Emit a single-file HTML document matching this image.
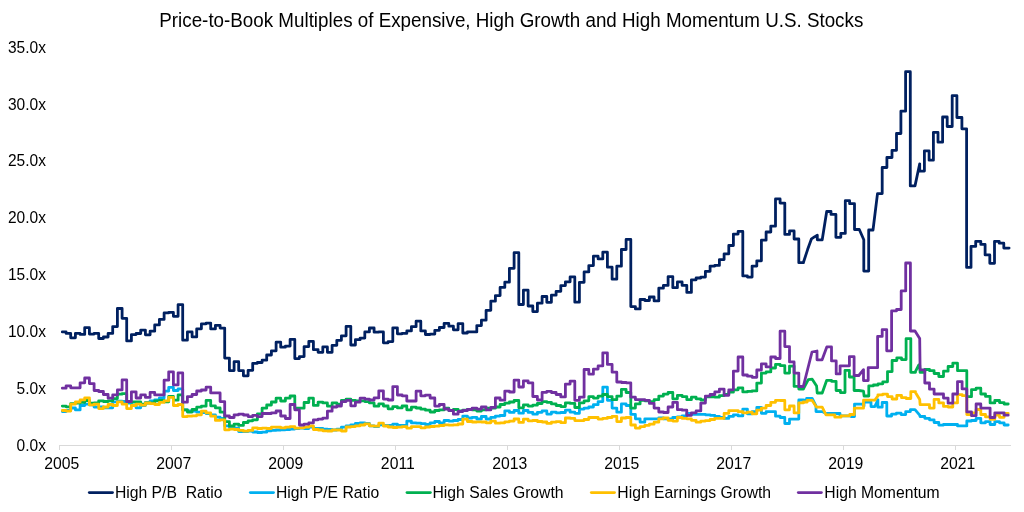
<!DOCTYPE html><html><head><meta charset="utf-8"><style>html,body{margin:0;padding:0;background:#fff;}#c{width:1024px;height:512px;will-change:transform;background:#fff}svg{display:block}text{font-family:"Liberation Sans",Arial,sans-serif;fill:#000}</style></head><body><div id="c">
<svg width="1024" height="512" viewBox="0 0 1024 512">
<rect width="1024" height="512" fill="#fff"/>
<text transform="matrix(1,0,0,1.04,159.3,26.5)" font-size="18.75" textLength="704" lengthAdjust="spacingAndGlyphs">Price-to-Book Multiples of Expensive, High Growth and High Momentum U.S. Stocks</text>
<text transform="matrix(1.015,0,0,1.126,45.95,450.70)" font-size="15.3" text-anchor="end">0.0x</text>
<text transform="matrix(1.015,0,0,1.126,45.95,393.85)" font-size="15.3" text-anchor="end">5.0x</text>
<text transform="matrix(1.015,0,0,1.126,45.95,336.99)" font-size="15.3" text-anchor="end">10.0x</text>
<text transform="matrix(1.015,0,0,1.126,45.95,280.14)" font-size="15.3" text-anchor="end">15.0x</text>
<text transform="matrix(1.015,0,0,1.126,45.95,223.28)" font-size="15.3" text-anchor="end">20.0x</text>
<text transform="matrix(1.015,0,0,1.126,45.95,166.42)" font-size="15.3" text-anchor="end">25.0x</text>
<text transform="matrix(1.015,0,0,1.126,45.95,109.57)" font-size="15.3" text-anchor="end">30.0x</text>
<text transform="matrix(1.015,0,0,1.126,45.95,52.72)" font-size="15.3" text-anchor="end">35.0x</text>
<path d="M59 445.5H1011" stroke="#d9d9d9" stroke-width="1" fill="none"/>
<path d="M59.5 446v4M171.5 446v4M283.5 446v4M395.5 446v4M507.5 446v4M619.5 446v4M731.5 446v4M843.5 446v4M955.5 446v4" stroke="#d9d9d9" stroke-width="1" fill="none"/>
<text transform="matrix(1.03,0,0,1.126,61.80,469)" font-size="15.3" text-anchor="middle">2005</text>
<text transform="matrix(1.03,0,0,1.126,173.80,469)" font-size="15.3" text-anchor="middle">2007</text>
<text transform="matrix(1.03,0,0,1.126,285.80,469)" font-size="15.3" text-anchor="middle">2009</text>
<text transform="matrix(1.03,0,0,1.126,397.80,469)" font-size="15.3" text-anchor="middle">2011</text>
<text transform="matrix(1.03,0,0,1.126,509.80,469)" font-size="15.3" text-anchor="middle">2013</text>
<text transform="matrix(1.03,0,0,1.126,621.80,469)" font-size="15.3" text-anchor="middle">2015</text>
<text transform="matrix(1.03,0,0,1.126,733.80,469)" font-size="15.3" text-anchor="middle">2017</text>
<text transform="matrix(1.03,0,0,1.126,845.80,469)" font-size="15.3" text-anchor="middle">2019</text>
<text transform="matrix(1.03,0,0,1.126,957.80,469)" font-size="15.3" text-anchor="middle">2021</text>
<path d="M62.3 331.9 L66.1 331.9 L66.1 333.4 L70.7 333.4 L70.7 337.8 L75.4 337.8 L75.4 333.4 L80.1 333.4 L80.1 334.4 L84.7 334.4 L84.7 327.7 L89.4 327.7 L89.4 334.1 L94.1 334.1 L94.1 333.4 L98.7 333.4 L98.7 338.5 L103.4 338.5 L103.4 337.0 L108.1 337.0 L108.1 333.4 L112.7 333.4 L112.7 326.6 L117.4 326.6 L117.4 308.5 L122.1 308.5 L122.1 318.3 L126.7 318.3 L126.7 340.9 L131.4 340.9 L131.4 334.6 L136.1 334.6 L136.1 333.5 L140.7 333.5 L140.7 330.1 L145.4 330.1 L145.4 334.8 L150.1 334.8 L150.1 331.2 L154.7 331.2 L154.7 324.9 L159.4 324.9 L159.4 319.4 L164.1 319.4 L164.1 312.9 L168.7 312.9 L168.7 312.4 L173.4 312.4 L173.4 316.3 L178.1 316.3 L178.1 304.6 L182.7 304.6 L182.7 340.2 L187.4 340.2 L187.4 331.9 L192.1 331.9 L192.1 336.9 L196.7 336.9 L196.7 328.8 L201.4 328.8 L201.4 323.8 L206.1 323.8 L206.1 323.1 L210.7 323.1 L210.7 328.9 L215.4 328.9 L215.4 325.3 L220.1 325.3 L220.1 328.1 L224.7 328.1 L224.7 358.1 L229.4 358.1 L229.4 370.6 L234.1 370.6 L234.1 361.7 L238.7 361.7 L238.7 370.6 L243.4 370.6 L243.4 375.8 L248.1 375.8 L248.1 370.3 L252.7 370.3 L252.7 363.3 L257.4 363.3 L257.4 362.5 L262.1 362.5 L262.1 360.2 L266.7 360.2 L266.7 355.0 L271.4 355.0 L271.4 350.8 L276.1 350.8 L276.1 342.2 L280.7 342.2 L280.7 347.2 L285.4 347.2 L285.4 346.1 L290.1 346.1 L290.1 339.4 L294.8 339.4 L294.8 358.6 L299.4 358.6 L299.4 356.6 L304.1 356.6 L304.1 346.6 L308.8 346.6 L308.8 341.4 L313.4 341.4 L313.4 349.7 L318.1 349.7 L318.1 352.3 L322.8 352.3 L322.8 346.9 L327.4 346.9 L327.4 352.3 L332.1 352.3 L332.1 345.3 L336.8 345.3 L336.8 340.3 L341.4 340.3 L341.4 335.8 L346.1 335.8 L346.1 326.3 L350.8 326.3 L350.8 345.0 L355.4 345.0 L355.4 339.7 L360.1 339.7 L360.1 338.1 L364.8 338.1 L364.8 331.9 L369.4 331.9 L369.4 328.0 L374.1 328.0 L374.1 332.2 L378.8 332.2 L378.8 331.9 L383.4 331.9 L383.4 342.8 L388.1 342.8 L388.1 341.6 L392.8 341.6 L392.8 327.8 L397.4 327.8 L397.4 333.8 L402.1 333.8 L402.1 333.4 L406.8 333.4 L406.8 330.9 L411.4 330.9 L411.4 326.7 L416.1 326.7 L416.1 321.2 L420.8 321.2 L420.8 330.9 L425.4 330.9 L425.4 334.5 L430.1 334.5 L430.1 334.1 L434.8 334.1 L434.8 330.3 L439.4 330.3 L439.4 327.5 L444.1 327.5 L444.1 323.3 L448.8 323.3 L448.8 326.2 L453.4 326.2 L453.4 329.8 L458.1 329.8 L458.1 323.6 L462.8 323.6 L462.8 333.0 L467.4 333.0 L467.4 331.9 L472.1 331.9 L472.1 331.9 L476.8 331.9 L476.8 325.6 L481.4 325.6 L481.4 320.2 L486.1 320.2 L486.1 310.3 L490.8 310.3 L490.8 301.2 L495.4 301.2 L495.4 295.6 L500.1 295.6 L500.1 287.4 L504.8 287.4 L504.8 282.2 L509.4 282.2 L509.4 268.3 L514.1 268.3 L514.1 252.7 L518.8 252.7 L518.8 304.5 L523.4 304.5 L523.4 290.2 L528.1 290.2 L528.1 306.0 L532.8 306.0 L532.8 311.6 L537.4 311.6 L537.4 303.2 L542.1 303.2 L542.1 296.5 L546.8 296.5 L546.8 302.3 L551.4 302.3 L551.4 295.2 L556.1 295.2 L556.1 291.3 L560.8 291.3 L560.8 285.6 L565.4 285.6 L565.4 281.8 L570.1 281.8 L570.1 276.9 L574.8 276.9 L574.8 302.2 L579.4 302.2 L579.4 282.3 L584.1 282.3 L584.1 271.9 L588.8 271.9 L588.8 265.6 L593.4 265.6 L593.4 256.2 L598.1 256.2 L598.1 258.9 L602.8 258.9 L602.8 252.2 L607.4 252.2 L607.4 267.2 L612.1 267.2 L612.1 279.2 L616.8 279.2 L616.8 266.2 L621.4 266.2 L621.4 249.5 L626.1 249.5 L626.1 239.4 L630.8 239.4 L630.8 306.6 L635.4 306.6 L635.4 308.9 L640.1 308.9 L640.1 299.5 L644.8 299.5 L644.8 300.5 L649.4 300.5 L649.4 297.0 L654.1 297.0 L654.1 300.9 L658.8 300.9 L658.8 288.2 L663.4 288.2 L663.4 285.4 L668.1 285.4 L668.1 276.6 L672.8 276.6 L672.8 287.7 L677.4 287.7 L677.4 281.9 L682.1 281.9 L682.1 285.4 L686.8 285.4 L686.8 292.4 L691.4 292.4 L691.4 279.8 L696.1 279.8 L696.1 278.0 L700.8 278.0 L700.8 277.1 L705.4 277.1 L705.4 271.3 L710.1 271.3 L710.1 266.1 L714.8 266.1 L714.8 265.4 L719.4 265.4 L719.4 259.6 L724.1 259.6 L724.1 253.8 L728.8 253.8 L728.8 245.5 L733.4 245.5 L733.4 234.1 L738.1 234.1 L738.1 231.4 L742.8 231.4 L742.8 275.9 L747.4 275.9 L747.4 277.1 L752.1 277.1 L752.1 266.1 L756.8 266.1 L756.8 260.8 L761.4 260.8 L761.4 240.2 L766.1 240.2 L766.1 232.0 L770.8 232.0 L770.8 226.2 L775.5 226.2 L775.5 198.9 L780.1 198.9 L780.1 203.1 L784.8 203.1 L784.8 234.4 L789.5 234.4 L789.5 230.9 L794.1 230.9 L794.1 239.0 L798.8 239.0 L798.8 262.7 L803.5 262.7 L803.3 262.7 L807.6 249.6 L811.5 238.8 L814.4 236.9 L817.3 235.3 L817.3 239.8 L822.2 239.8 L826.7 211.5 L831.0 211.5 L831.0 214.4 L835.9 214.4 L835.9 237.3 L840.8 237.3 L840.8 233.4 L845.3 233.4 L845.3 200.7 L849.6 200.7 L849.6 203.7 L854.5 203.7 L854.5 229.5 L859.3 229.5 L863.8 239.8 L863.8 271.1 L868.7 271.1 L868.7 230.0 L873.0 230.0 L877.5 193.6 L882.2 193.6 L882.2 167.5 L886.9 167.5 L886.9 157.5 L892.0 157.5 L892.0 150.3 L896.5 150.3 L896.5 133.5 L900.9 133.5 L900.9 111.2 L905.6 111.2 L905.6 71.7 L910.3 71.7 L910.3 185.9 L915.0 185.9 L919.7 163.8 L919.7 171.1 L924.4 171.1 L924.4 150.8 L929.1 150.8 L929.1 160.2 L933.4 160.2 L933.4 132.4 L938.0 132.4 L938.0 142.2 L942.6 142.2 L942.6 117.0 L947.2 117.0 L947.2 126.5 L952.2 126.5 L952.2 95.6 L956.9 95.6 L956.9 117.5 L961.9 117.5 L961.9 128.8 L966.6 128.8 L966.6 267.4 L971.0 267.4 L971.0 246.4 L975.7 246.4 L975.7 241.3 L980.8 241.3 L980.8 244.4 L985.1 244.4 L985.1 254.9 L989.8 254.9 L989.8 263.3 L994.5 263.3 L994.5 241.3 L999.2 241.3 L999.2 243.2 L1003.8 243.2 L1003.8 248.1 L1009.1 248.1" stroke="#002060" stroke-width="2.8" fill="none" stroke-linejoin="round" stroke-linecap="round"/>
<path d="M62.3 411.5 L66.1 411.5 L66.1 410.5 L70.7 410.5 L70.7 408.0 L75.4 408.0 L75.4 409.9 L80.1 409.9 L80.1 405.5 L84.7 405.5 L84.7 404.2 L89.4 404.2 L89.4 404.9 L94.1 404.9 L94.1 407.0 L98.7 407.0 L98.7 407.0 L103.4 407.0 L103.4 407.8 L108.1 407.8 L108.1 407.8 L112.7 407.8 L112.7 401.8 L117.4 401.8 L117.4 401.1 L122.1 401.1 L122.1 401.5 L126.7 401.5 L126.7 403.0 L131.4 403.0 L131.4 405.5 L136.1 405.5 L136.1 407.8 L140.7 407.8 L140.7 405.5 L145.4 405.5 L145.4 402.4 L150.1 402.4 L150.1 400.8 L154.7 400.8 L154.7 399.9 L159.4 399.9 L159.4 398.0 L164.1 398.0 L164.1 391.1 L168.7 391.1 L168.7 387.4 L173.4 387.4 L173.4 390.5 L178.1 390.5 L178.1 388.8 L182.7 388.8 L182.7 409.8 L187.4 409.8 L187.4 410.8 L192.1 410.8 L192.1 411.2 L196.7 411.2 L196.7 412.2 L201.4 412.2 L201.4 412.5 L206.1 412.5 L206.1 413.5 L210.7 413.5 L210.7 414.8 L215.4 414.8 L215.4 417.2 L220.1 417.2 L220.1 418.5 L224.7 418.5 L224.7 425.8 L229.4 425.8 L229.4 427.2 L234.1 427.2 L234.1 428.2 L238.7 428.2 L238.7 431.6 L243.4 431.6 L243.4 431.6 L248.1 431.6 L248.1 431.0 L252.7 431.0 L252.7 432.0 L257.4 432.0 L257.4 432.5 L262.1 432.5 L262.1 432.2 L266.7 432.2 L266.7 430.8 L271.4 430.8 L271.4 430.4 L276.1 430.4 L276.1 430.0 L280.7 430.0 L280.7 429.8 L285.4 429.8 L285.4 429.5 L290.1 429.5 L290.1 429.1 L294.8 429.1 L294.8 428.5 L299.4 428.5 L299.4 428.2 L304.1 428.2 L304.1 428.5 L308.8 428.5 L308.8 427.0 L313.4 427.0 L313.4 428.5 L318.1 428.5 L318.1 428.5 L322.8 428.5 L322.8 429.1 L327.4 429.1 L327.4 429.5 L332.1 429.5 L332.1 430.0 L336.8 430.0 L336.8 429.1 L341.4 429.1 L341.4 427.2 L346.1 427.2 L346.1 426.0 L350.8 426.0 L350.8 425.0 L355.4 425.0 L355.4 423.5 L360.1 423.5 L360.1 422.9 L364.8 422.9 L364.8 423.5 L369.4 423.5 L369.4 425.8 L374.1 425.8 L374.1 426.6 L378.8 426.6 L378.8 424.8 L383.4 424.8 L383.4 425.4 L388.1 425.4 L388.1 425.4 L392.8 425.4 L392.8 424.1 L397.4 424.1 L397.4 425.4 L402.1 425.4 L402.1 425.4 L406.8 425.4 L406.8 421.2 L411.4 421.2 L411.4 422.9 L416.1 422.9 L416.1 423.2 L420.8 423.2 L420.8 423.6 L425.4 423.6 L425.4 424.5 L430.1 424.5 L430.1 422.8 L434.8 422.8 L434.8 421.5 L439.4 421.5 L439.4 423.0 L444.1 423.0 L444.1 420.5 L448.8 420.5 L448.8 421.1 L453.4 421.1 L453.4 420.5 L458.1 420.5 L458.1 419.5 L462.8 419.5 L462.8 416.1 L467.4 416.1 L467.4 418.0 L472.1 418.0 L472.1 417.4 L476.8 417.4 L476.8 419.0 L481.4 419.0 L481.4 416.5 L486.1 416.5 L486.1 419.0 L490.8 419.0 L490.8 417.4 L495.4 417.4 L495.4 416.1 L500.1 416.1 L500.1 415.5 L504.8 415.5 L504.8 410.8 L509.4 410.8 L509.4 412.4 L514.1 412.4 L514.1 410.5 L518.8 410.5 L518.8 413.2 L523.4 413.2 L523.4 410.5 L528.1 410.5 L528.1 412.4 L532.8 412.4 L532.8 414.2 L537.4 414.2 L537.4 412.3 L542.1 412.3 L542.1 410.8 L546.8 410.8 L546.8 414.1 L551.4 414.1 L551.4 412.2 L556.1 412.2 L556.1 412.8 L560.8 412.8 L560.8 412.5 L565.4 412.5 L565.4 410.2 L570.1 410.2 L570.1 412.2 L574.8 412.2 L574.8 413.3 L579.4 413.3 L579.4 409.1 L584.1 409.1 L584.1 408.1 L588.8 408.1 L588.8 407.0 L593.4 407.0 L593.4 404.7 L598.1 404.7 L598.1 401.6 L602.8 401.6 L602.8 387.2 L607.4 387.2 L607.4 400.3 L612.1 400.3 L612.1 408.1 L616.8 408.1 L616.8 412.2 L621.4 412.2 L621.4 403.9 L626.1 403.9 L626.1 405.5 L630.8 405.5 L630.8 414.4 L635.4 414.4 L635.4 418.8 L640.1 418.8 L640.1 422.2 L644.8 422.2 L644.8 418.8 L649.4 418.8 L649.4 418.8 L654.1 418.8 L654.1 418.8 L658.8 418.8 L658.8 417.8 L663.4 417.8 L663.4 418.8 L668.1 418.8 L668.1 418.8 L672.8 418.8 L672.8 417.5 L677.4 417.5 L677.4 416.9 L682.1 416.9 L682.1 415.9 L686.8 415.9 L686.8 413.3 L691.4 413.3 L691.4 414.4 L696.1 414.4 L696.1 414.4 L700.8 414.4 L700.8 414.4 L705.4 414.4 L705.4 414.8 L710.1 414.8 L710.1 415.3 L714.8 415.3 L714.8 416.4 L719.4 416.4 L719.4 417.5 L724.1 417.5 L724.1 418.4 L728.8 418.4 L728.8 416.4 L733.4 416.4 L733.4 414.8 L738.1 414.8 L738.1 415.9 L742.8 415.9 L742.8 409.1 L747.4 409.1 L747.4 413.8 L752.1 413.8 L752.1 411.7 L756.8 411.7 L756.8 407.5 L761.4 407.5 L761.4 413.3 L766.1 413.3 L766.1 411.7 L770.8 411.7 L770.8 411.7 L775.5 411.7 L775.5 416.2 L780.1 416.2 L780.1 417.5 L784.8 417.5 L784.8 423.5 L789.5 423.5 L789.5 419.1 L794.1 419.1 L794.1 419.1 L798.8 419.1 L798.8 400.0 L803.5 400.0 L803.3 400.1 L806.6 400.1 L806.6 398.5 L812.2 398.5 L816.0 406.0 L816.0 411.6 L822.2 411.6 L826.0 413.5 L840.0 413.5 L840.0 415.8 L851.0 415.8 L851.0 416.6 L854.5 416.6 L854.5 404.1 L862.2 404.1 L864.0 406.0 L864.0 402.2 L871.0 402.2 L871.0 406.6 L874.8 406.6 L877.9 399.8 L877.9 407.2 L882.2 407.2 L882.2 402.5 L886.8 402.5 L886.8 416.0 L891.6 416.0 L891.6 414.1 L896.4 414.1 L896.4 413.2 L901.1 413.2 L901.1 414.6 L905.7 414.6 L905.7 411.6 L910.4 411.6 L910.4 409.6 L915.0 409.6 L919.7 415.2 L920.1 416.5 L924.8 416.5 L924.8 418.3 L929.5 418.3 L929.5 419.8 L934.1 419.8 L934.1 422.5 L938.8 422.5 L938.8 425.1 L943.5 425.1 L943.5 424.5 L948.1 424.5 L948.1 424.5 L952.8 424.5 L952.8 424.5 L957.5 424.5 L957.5 425.9 L962.1 425.9 L962.1 425.9 L966.8 425.9 L966.8 421.0 L971.5 421.0 L971.5 420.5 L976.1 420.5 L976.1 418.4 L980.8 418.4 L980.8 422.8 L985.5 422.8 L985.5 421.6 L990.1 421.6 L990.1 424.5 L994.8 424.5 L994.8 421.6 L999.5 421.6 L999.5 422.8 L1004.1 422.8 L1004.1 425.0 L1008.2 425.0" stroke="#00B0F0" stroke-width="2.8" fill="none" stroke-linejoin="round" stroke-linecap="round"/>
<path d="M62.3 406.1 L66.1 406.1 L66.1 406.8 L70.7 406.8 L70.7 403.6 L75.4 403.6 L75.4 403.0 L80.1 403.0 L80.1 402.4 L84.7 402.4 L84.7 400.5 L89.4 400.5 L89.4 403.2 L94.1 403.2 L94.1 403.0 L98.7 403.0 L98.7 400.8 L103.4 400.8 L103.4 401.5 L108.1 401.5 L108.1 400.8 L112.7 400.8 L112.7 398.6 L117.4 398.6 L117.4 394.2 L122.1 394.2 L122.1 393.6 L126.7 393.6 L126.7 401.8 L131.4 401.8 L131.4 402.0 L136.1 402.0 L136.1 401.8 L140.7 401.8 L140.7 404.2 L145.4 404.2 L145.4 403.0 L150.1 403.0 L150.1 403.0 L154.7 403.0 L154.7 400.8 L159.4 400.8 L159.4 400.5 L164.1 400.5 L164.1 401.8 L168.7 401.8 L168.7 396.5 L173.4 396.5 L173.4 400.2 L178.1 400.2 L178.1 394.9 L182.7 394.9 L182.7 409.8 L187.4 409.8 L187.4 412.0 L192.1 412.0 L192.1 409.5 L196.7 409.5 L196.7 407.2 L201.4 407.2 L201.4 406.2 L206.1 406.2 L206.1 400.4 L210.7 400.4 L210.7 405.8 L215.4 405.8 L215.4 407.9 L220.1 407.9 L220.1 412.2 L224.7 412.2 L224.7 421.6 L229.4 421.6 L229.4 426.0 L234.1 426.0 L234.1 424.1 L238.7 424.1 L238.7 425.4 L243.4 425.4 L243.4 422.5 L248.1 422.5 L248.1 420.8 L252.7 420.8 L252.7 419.8 L257.4 419.8 L257.4 413.8 L262.1 413.8 L262.1 408.2 L266.7 408.2 L266.7 405.0 L271.4 405.0 L271.4 402.0 L276.1 402.0 L276.1 398.2 L280.7 398.2 L280.7 401.0 L285.4 401.0 L285.4 398.2 L290.1 398.2 L290.1 396.0 L294.8 396.0 L294.8 408.2 L299.4 408.2 L299.4 408.2 L304.1 408.2 L304.1 402.5 L308.8 402.5 L308.8 398.2 L313.4 398.2 L313.4 405.4 L318.1 405.4 L318.1 402.2 L322.8 402.2 L322.8 402.9 L327.4 402.9 L327.4 406.2 L332.1 406.2 L332.1 402.9 L336.8 402.9 L336.8 404.1 L341.4 404.1 L341.4 400.4 L346.1 400.4 L346.1 399.1 L350.8 399.1 L350.8 400.4 L355.4 400.4 L355.4 400.8 L360.1 400.8 L360.1 400.8 L364.8 400.8 L364.8 401.6 L369.4 401.6 L369.4 402.9 L374.1 402.9 L374.1 406.2 L378.8 406.2 L378.8 403.8 L383.4 403.8 L383.4 406.0 L388.1 406.0 L388.1 408.8 L392.8 408.8 L392.8 406.6 L397.4 406.6 L397.4 407.9 L402.1 407.9 L402.1 406.0 L406.8 406.0 L406.8 409.8 L411.4 409.8 L411.4 407.2 L416.1 407.2 L416.1 408.0 L420.8 408.0 L420.8 409.2 L425.4 409.2 L425.4 410.2 L430.1 410.2 L430.1 412.0 L434.8 412.0 L434.8 410.5 L439.4 410.5 L439.4 409.9 L444.1 409.9 L444.1 408.2 L448.8 408.2 L448.8 410.5 L453.4 410.5 L453.4 409.5 L458.1 409.5 L458.1 410.8 L462.8 410.8 L462.8 410.2 L467.4 410.2 L467.4 409.5 L472.1 409.5 L472.1 409.9 L476.8 409.9 L476.8 411.1 L481.4 411.1 L481.4 409.9 L486.1 409.9 L486.1 408.2 L490.8 408.2 L490.8 408.2 L495.4 408.2 L495.4 407.0 L500.1 407.0 L500.1 404.5 L504.8 404.5 L504.8 403.2 L509.4 403.2 L509.4 402.0 L514.1 402.0 L514.1 400.5 L518.8 400.5 L518.8 407.8 L523.4 407.8 L523.4 404.9 L528.1 404.9 L528.1 406.1 L532.8 406.1 L532.8 405.2 L537.4 405.2 L537.4 403.5 L542.1 403.5 L542.1 401.7 L546.8 401.7 L546.8 402.3 L551.4 402.3 L551.4 403.9 L556.1 403.9 L556.1 405.5 L560.8 405.5 L560.8 406.6 L565.4 406.6 L565.4 402.8 L570.1 402.8 L570.1 403.4 L574.8 403.4 L574.8 407.5 L579.4 407.5 L579.4 402.8 L584.1 402.8 L584.1 400.8 L588.8 400.8 L588.8 396.6 L593.4 396.6 L593.4 398.1 L598.1 398.1 L598.1 396.1 L602.8 396.1 L602.8 394.5 L607.4 394.5 L607.4 396.6 L612.1 396.6 L612.1 399.7 L616.8 399.7 L616.8 396.1 L621.4 396.1 L621.4 389.4 L626.1 389.4 L626.1 392.5 L630.8 392.5 L630.8 408.1 L635.4 408.1 L635.4 403.9 L640.1 403.9 L640.1 400.3 L644.8 400.3 L644.8 400.8 L649.4 400.8 L649.4 401.6 L654.1 401.6 L654.1 399.7 L658.8 399.7 L658.8 396.1 L663.4 396.1 L663.4 394.1 L668.1 394.1 L668.1 392.5 L672.8 392.5 L672.8 398.8 L677.4 398.8 L677.4 395.3 L682.1 395.3 L682.1 396.6 L686.8 396.6 L686.8 399.7 L691.4 399.7 L691.4 397.2 L696.1 397.2 L696.1 398.8 L700.8 398.8 L700.8 400.0 L705.4 400.0 L705.4 396.9 L710.1 396.9 L710.1 396.9 L714.8 396.9 L714.8 397.2 L719.4 397.2 L719.4 395.6 L724.1 395.6 L724.1 394.5 L728.8 394.5 L728.8 392.2 L733.4 392.2 L733.4 389.8 L738.1 389.8 L738.1 387.8 L742.8 387.8 L742.8 391.9 L747.4 391.9 L747.4 391.4 L752.1 391.4 L752.1 390.9 L756.8 390.9 L756.8 383.1 L761.4 383.1 L761.4 373.1 L766.1 373.1 L766.1 371.9 L770.8 371.9 L770.8 368.0 L775.5 368.0 L775.5 364.4 L780.1 364.4 L780.1 365.6 L784.8 365.6 L784.8 373.1 L789.5 373.1 L789.5 366.1 L794.1 366.1 L794.1 386.4 L798.8 386.4 L798.8 389.0 L803.5 389.0 L803.3 389.0 L808.3 379.6 L812.2 379.2 L816.6 386.0 L817.2 393.0 L822.2 393.0 L826.7 380.3 L831.5 380.3 L831.5 381.3 L836.1 381.3 L836.1 390.5 L840.4 390.5 L840.4 392.6 L845.0 392.6 L845.0 370.3 L849.4 370.3 L849.4 377.0 L854.1 377.0 L854.1 390.5 L858.8 390.5 L863.5 391.2 L864.1 396.0 L868.8 396.0 L868.8 385.8 L873.5 385.8 L873.5 385.0 L878.1 385.0 L878.1 383.8 L882.8 383.8 L882.8 381.8 L887.5 381.8 L887.5 371.6 L892.1 371.6 L892.1 360.5 L896.8 360.5 L896.8 357.8 L901.5 357.8 L901.5 359.6 L906.1 359.6 L906.1 338.6 L910.8 338.6 L910.8 372.3 L915.5 372.3 L915.0 372.3 L918.8 364.9 L919.7 365.0 L920.1 372.3 L924.8 372.3 L924.8 369.5 L929.5 369.5 L929.5 370.7 L934.1 370.7 L934.1 373.5 L938.8 373.5 L938.8 376.5 L943.5 376.5 L943.5 371.2 L948.1 371.2 L948.1 366.5 L952.8 366.5 L952.8 363.2 L957.5 363.2 L957.5 370.7 L962.1 370.7 L962.1 370.7 L966.8 370.7 L966.8 396.7 L971.5 396.7 L971.5 389.6 L976.1 389.6 L976.1 388.2 L980.8 388.2 L980.8 394.0 L985.5 394.0 L985.5 396.4 L990.1 396.4 L990.1 402.9 L994.8 402.9 L994.8 400.5 L999.5 400.5 L999.5 402.6 L1004.1 402.6 L1004.1 404.0 L1008.2 404.0" stroke="#00B050" stroke-width="2.8" fill="none" stroke-linejoin="round" stroke-linecap="round"/>
<path d="M62.3 410.5 L66.1 410.5 L66.1 411.1 L70.7 411.1 L70.7 404.2 L75.4 404.2 L75.4 402.0 L80.1 402.0 L80.1 399.9 L84.7 399.9 L84.7 397.8 L89.4 397.8 L89.4 404.9 L94.1 404.9 L94.1 404.2 L98.7 404.2 L98.7 408.6 L103.4 408.6 L103.4 407.0 L108.1 407.0 L108.1 404.5 L112.7 404.5 L112.7 405.5 L117.4 405.5 L117.4 401.8 L122.1 401.8 L122.1 404.2 L126.7 404.2 L126.7 408.6 L131.4 408.6 L131.4 405.5 L136.1 405.5 L136.1 404.2 L140.7 404.2 L140.7 405.2 L145.4 405.2 L145.4 403.0 L150.1 403.0 L150.1 403.6 L154.7 403.6 L154.7 404.5 L159.4 404.5 L159.4 402.4 L164.1 402.4 L164.1 400.8 L168.7 400.8 L168.7 397.4 L173.4 397.4 L173.4 405.5 L178.1 405.5 L178.1 404.5 L182.7 404.5 L182.7 416.6 L187.4 416.6 L187.4 416.2 L192.1 416.2 L192.1 415.8 L196.7 415.8 L196.7 414.8 L201.4 414.8 L201.4 411.2 L206.1 411.2 L206.1 412.9 L210.7 412.9 L210.7 416.2 L215.4 416.2 L215.4 420.4 L220.1 420.4 L220.1 419.8 L224.7 419.8 L224.7 429.8 L229.4 429.8 L229.4 429.1 L234.1 429.1 L234.1 429.5 L238.7 429.5 L238.7 430.4 L243.4 430.4 L243.4 431.2 L248.1 431.2 L248.1 430.4 L252.7 430.4 L252.7 427.9 L257.4 427.9 L257.4 428.5 L262.1 428.5 L262.1 428.2 L266.7 428.2 L266.7 428.5 L271.4 428.5 L271.4 427.2 L276.1 427.2 L276.1 427.2 L280.7 427.2 L280.7 427.9 L285.4 427.9 L285.4 427.2 L290.1 427.2 L290.1 426.6 L294.8 426.6 L294.8 428.2 L299.4 428.2 L299.4 427.9 L304.1 427.9 L304.1 427.2 L308.8 427.2 L308.8 426.0 L313.4 426.0 L313.4 429.5 L318.1 429.5 L318.1 430.0 L322.8 430.0 L322.8 430.8 L327.4 430.8 L327.4 431.0 L332.1 431.0 L332.1 430.0 L336.8 430.0 L336.8 430.0 L341.4 430.0 L341.4 431.0 L346.1 431.0 L346.1 427.0 L350.8 427.0 L350.8 426.6 L355.4 426.6 L355.4 425.8 L360.1 425.8 L360.1 425.0 L364.8 425.0 L364.8 423.8 L369.4 423.8 L369.4 425.8 L374.1 425.8 L374.1 426.2 L378.8 426.2 L378.8 423.2 L383.4 423.2 L383.4 426.0 L388.1 426.0 L388.1 427.0 L392.8 427.0 L392.8 427.5 L397.4 427.5 L397.4 427.2 L402.1 427.2 L402.1 426.6 L406.8 426.6 L406.8 428.2 L411.4 428.2 L411.4 426.6 L416.1 426.6 L416.1 426.7 L420.8 426.7 L420.8 427.8 L425.4 427.8 L425.4 427.0 L430.1 427.0 L430.1 426.5 L434.8 426.5 L434.8 426.1 L439.4 426.1 L439.4 425.5 L444.1 425.5 L444.1 424.9 L448.8 424.9 L448.8 425.2 L453.4 425.2 L453.4 424.9 L458.1 424.9 L458.1 424.0 L462.8 424.0 L462.8 419.2 L467.4 419.2 L467.4 421.5 L472.1 421.5 L472.1 422.0 L476.8 422.0 L476.8 421.8 L481.4 421.8 L481.4 422.0 L486.1 422.0 L486.1 422.8 L490.8 422.8 L490.8 421.1 L495.4 421.1 L495.4 423.2 L500.1 423.2 L500.1 422.8 L504.8 422.8 L504.8 421.8 L509.4 421.8 L509.4 421.1 L514.1 421.1 L514.1 419.0 L518.8 419.0 L518.8 422.4 L523.4 422.4 L523.4 419.2 L528.1 419.2 L528.1 420.8 L532.8 420.8 L532.8 420.5 L537.4 420.5 L537.4 421.5 L542.1 421.5 L542.1 422.0 L546.8 422.0 L546.8 423.4 L551.4 423.4 L551.4 422.2 L556.1 422.2 L556.1 421.6 L560.8 421.6 L560.8 422.7 L565.4 422.7 L565.4 418.0 L570.1 418.0 L570.1 418.4 L574.8 418.4 L574.8 420.6 L579.4 420.6 L579.4 420.6 L584.1 420.6 L584.1 419.5 L588.8 419.5 L588.8 417.5 L593.4 417.5 L593.4 417.5 L598.1 417.5 L598.1 419.1 L602.8 419.1 L602.8 418.4 L607.4 418.4 L607.4 417.5 L612.1 417.5 L612.1 416.4 L616.8 416.4 L616.8 421.6 L621.4 421.6 L621.4 418.0 L626.1 418.0 L626.1 417.5 L630.8 417.5 L630.8 425.0 L635.4 425.0 L635.4 428.1 L640.1 428.1 L640.1 426.6 L644.8 426.6 L644.8 425.3 L649.4 425.3 L649.4 424.2 L654.1 424.2 L654.1 422.2 L658.8 422.2 L658.8 418.8 L663.4 418.8 L663.4 418.0 L668.1 418.0 L668.1 420.3 L672.8 420.3 L672.8 421.1 L677.4 421.1 L677.4 417.5 L682.1 417.5 L682.1 418.4 L686.8 418.4 L686.8 418.8 L691.4 418.8 L691.4 420.3 L696.1 420.3 L696.1 422.2 L700.8 422.2 L700.8 421.1 L705.4 421.1 L705.4 420.6 L710.1 420.6 L710.1 419.5 L714.8 419.5 L714.8 418.4 L719.4 418.4 L719.4 418.4 L724.1 418.4 L724.1 413.3 L728.8 413.3 L728.8 410.6 L733.4 410.6 L733.4 410.6 L738.1 410.6 L738.1 411.7 L742.8 411.7 L742.8 412.8 L747.4 412.8 L747.4 412.2 L752.1 412.2 L752.1 413.8 L756.8 413.8 L756.8 410.2 L761.4 410.2 L761.4 408.1 L766.1 408.1 L766.1 405.5 L770.8 405.5 L770.8 402.3 L775.5 402.3 L775.5 400.3 L780.1 400.3 L780.1 400.5 L784.8 400.5 L784.8 409.8 L789.5 409.8 L789.5 406.0 L794.1 406.0 L794.1 412.9 L798.8 412.9 L798.8 402.9 L803.5 402.9 L803.3 402.9 L803.3 402.0 L807.2 402.0 L807.2 400.4 L812.2 400.4 L816.6 407.2 L822.2 407.2 L826.0 414.8 L834.8 414.8 L834.8 417.2 L841.0 417.2 L841.0 415.8 L849.8 415.8 L849.8 414.5 L854.3 414.5 L854.3 408.2 L863.5 408.2 L863.5 400.2 L874.8 400.2 L877.9 396.0 L877.9 394.8 L878.1 394.8 L882.8 394.8 L882.8 394.1 L887.5 394.1 L887.5 396.6 L892.1 396.6 L892.1 399.0 L896.8 399.0 L896.8 395.3 L901.5 395.3 L901.5 397.7 L906.1 397.7 L906.1 398.5 L910.8 398.5 L910.8 391.7 L915.5 391.7 L915.0 391.7 L919.7 399.5 L920.1 404.6 L924.8 404.6 L924.8 404.6 L929.5 404.6 L929.5 408.1 L934.1 408.1 L934.1 399.3 L938.8 399.3 L938.8 402.9 L943.5 402.9 L943.5 406.4 L948.1 406.4 L948.1 407.0 L952.8 407.0 L952.8 402.9 L957.5 402.9 L957.5 394.6 L962.1 394.6 L962.1 395.6 L966.8 395.6 L966.8 414.6 L971.5 414.6 L971.5 412.8 L976.1 412.8 L976.1 409.5 L980.8 409.5 L980.8 414.5 L985.5 414.5 L985.5 416.9 L990.1 416.9 L990.1 419.3 L994.8 419.3 L994.8 415.2 L999.5 415.2 L999.5 417.3 L1004.1 417.3 L1004.1 413.4 L1008.2 413.4" stroke="#FFC000" stroke-width="2.8" fill="none" stroke-linejoin="round" stroke-linecap="round"/>
<path d="M62.3 388.2 L66.1 388.2 L66.1 385.8 L70.7 385.8 L70.7 387.8 L75.4 387.8 L75.4 387.8 L80.1 387.8 L80.1 382.8 L84.7 382.8 L84.7 378.0 L89.4 378.0 L89.4 383.6 L94.1 383.6 L94.1 390.5 L98.7 390.5 L98.7 391.5 L103.4 391.5 L103.4 394.5 L108.1 394.5 L108.1 398.2 L112.7 398.2 L112.7 394.9 L117.4 394.9 L117.4 389.9 L122.1 389.9 L122.1 379.9 L126.7 379.9 L126.7 401.5 L131.4 401.5 L131.4 391.8 L136.1 391.8 L136.1 398.0 L140.7 398.0 L140.7 394.9 L145.4 394.9 L145.4 397.4 L150.1 397.4 L150.1 392.4 L154.7 392.4 L154.7 394.9 L159.4 394.9 L159.4 394.9 L164.1 394.9 L164.1 380.2 L168.7 380.2 L168.7 371.8 L173.4 371.8 L173.4 384.9 L178.1 384.9 L178.1 372.8 L182.7 372.8 L182.7 402.2 L187.4 402.2 L187.4 396.6 L192.1 396.6 L192.1 394.5 L196.7 394.5 L196.7 391.0 L201.4 391.0 L201.4 390.0 L206.1 390.0 L206.1 387.2 L210.7 387.2 L210.7 392.9 L215.4 392.9 L215.4 392.9 L220.1 392.9 L220.1 401.6 L224.7 401.6 L224.7 416.0 L229.4 416.0 L229.4 417.5 L234.1 417.5 L234.1 414.8 L238.7 414.8 L238.7 414.1 L243.4 414.1 L243.4 415.0 L248.1 415.0 L248.1 416.6 L252.7 416.6 L252.7 415.4 L257.4 415.4 L257.4 416.6 L262.1 416.6 L262.1 413.5 L266.7 413.5 L266.7 413.5 L271.4 413.5 L271.4 412.9 L276.1 412.9 L276.1 411.0 L280.7 411.0 L280.7 416.0 L285.4 416.0 L285.4 418.5 L290.1 418.5 L290.1 404.5 L294.8 404.5 L294.8 409.8 L299.4 409.8 L299.4 425.0 L304.1 425.0 L304.1 424.1 L308.8 424.1 L308.8 422.9 L313.4 422.9 L313.4 419.8 L318.1 419.8 L318.1 419.1 L322.8 419.1 L322.8 418.2 L327.4 418.2 L327.4 411.2 L332.1 411.2 L332.1 407.0 L336.8 407.0 L336.8 406.0 L341.4 406.0 L341.4 401.6 L346.1 401.6 L346.1 400.4 L350.8 400.4 L350.8 405.8 L355.4 405.8 L355.4 402.2 L360.1 402.2 L360.1 398.2 L364.8 398.2 L364.8 399.1 L369.4 399.1 L369.4 400.0 L374.1 400.0 L374.1 397.9 L378.8 397.9 L378.8 390.8 L383.4 390.8 L383.4 399.1 L388.1 399.1 L388.1 400.0 L392.8 400.0 L392.8 386.6 L397.4 386.6 L397.4 395.0 L402.1 395.0 L402.1 395.8 L406.8 395.8 L406.8 401.0 L411.4 401.0 L411.4 401.0 L416.1 401.0 L416.1 391.2 L420.8 391.2 L420.8 395.8 L425.4 395.8 L425.4 395.2 L430.1 395.2 L430.1 398.0 L434.8 398.0 L434.8 406.1 L439.4 406.1 L439.4 404.5 L444.1 404.5 L444.1 409.0 L448.8 409.0 L448.8 410.5 L453.4 410.5 L453.4 414.2 L458.1 414.2 L458.1 411.5 L462.8 411.5 L462.8 410.5 L467.4 410.5 L467.4 409.5 L472.1 409.5 L472.1 408.2 L476.8 408.2 L476.8 409.2 L481.4 409.2 L481.4 407.0 L486.1 407.0 L486.1 409.9 L490.8 409.9 L490.8 407.4 L495.4 407.4 L495.4 398.0 L500.1 398.0 L500.1 400.2 L504.8 400.2 L504.8 391.1 L509.4 391.1 L509.4 392.0 L514.1 392.0 L514.1 380.2 L518.8 380.2 L518.8 387.0 L523.4 387.0 L523.4 380.8 L528.1 380.8 L528.1 382.8 L532.8 382.8 L532.8 396.5 L537.4 396.5 L537.4 400.0 L542.1 400.0 L542.1 392.3 L546.8 392.3 L546.8 391.4 L551.4 391.4 L551.4 392.5 L556.1 392.5 L556.1 394.5 L560.8 394.5 L560.8 396.9 L565.4 396.9 L565.4 384.1 L570.1 384.1 L570.1 381.2 L574.8 381.2 L574.8 400.3 L579.4 400.3 L579.4 397.2 L584.1 397.2 L584.1 369.5 L588.8 369.5 L588.8 374.2 L593.4 374.2 L593.4 369.1 L598.1 369.1 L598.1 365.9 L602.8 365.9 L602.8 352.8 L607.4 352.8 L607.4 364.4 L612.1 364.4 L612.1 372.2 L616.8 372.2 L616.8 382.0 L621.4 382.0 L621.4 382.5 L626.1 382.5 L626.1 382.8 L630.8 382.8 L630.8 397.2 L635.4 397.2 L635.4 399.7 L640.1 399.7 L640.1 399.7 L644.8 399.7 L644.8 400.3 L649.4 400.3 L649.4 403.4 L654.1 403.4 L654.1 408.1 L658.8 408.1 L658.8 412.0 L663.4 412.0 L663.4 412.5 L668.1 412.5 L668.1 407.0 L672.8 407.0 L672.8 402.3 L677.4 402.3 L677.4 409.7 L682.1 409.7 L682.1 410.2 L686.8 410.2 L686.8 415.3 L691.4 415.3 L691.4 412.8 L696.1 412.8 L696.1 410.9 L700.8 410.9 L700.8 403.1 L705.4 403.1 L705.4 396.1 L710.1 396.1 L710.1 394.5 L714.8 394.5 L714.8 391.9 L719.4 391.9 L719.4 389.1 L724.1 389.1 L724.1 395.3 L728.8 395.3 L728.8 389.8 L733.4 389.8 L733.4 371.1 L738.1 371.1 L738.1 357.0 L742.8 357.0 L742.8 375.0 L747.4 375.0 L747.4 376.2 L752.1 376.2 L752.1 377.3 L756.8 377.3 L756.8 370.0 L761.4 370.0 L761.4 363.8 L766.1 363.8 L766.1 366.9 L770.8 366.9 L770.8 357.0 L775.5 357.0 L775.5 358.5 L780.1 358.5 L780.1 331.2 L784.8 331.2 L784.8 346.6 L789.5 346.6 L789.5 361.9 L794.1 361.9 L794.1 373.1 L798.8 373.1 L798.8 386.5 L803.5 386.5 L803.3 386.5 L812.0 352.0 L817.0 351.0 L817.0 359.8 L822.1 359.8 L826.8 346.9 L831.5 346.9 L831.5 360.9 L836.2 360.9 L836.2 373.9 L840.1 373.9 L840.1 365.8 L849.4 365.8 L849.4 356.7 L854.1 356.7 L854.1 375.5 L858.8 375.5 L863.5 369.7 L863.5 380.6 L868.2 380.6 L868.2 367.7 L877.6 367.7 L877.6 336.4 L882.2 336.4 L882.2 329.6 L886.7 329.6 L886.7 350.8 L891.6 350.8 L891.6 310.8 L896.6 310.8 L896.6 309.5 L901.2 309.5 L901.2 290.9 L905.7 290.9 L905.7 263.0 L910.4 263.0 L910.4 331.0 L915.0 331.0 L919.7 338.5 L920.1 369.8 L924.8 369.8 L924.8 383.0 L929.5 383.0 L929.5 389.2 L934.1 389.2 L934.1 394.0 L938.8 394.0 L938.8 394.0 L943.5 394.0 L943.5 398.1 L948.1 398.1 L948.1 403.2 L952.8 403.2 L952.8 394.0 L957.5 394.0 L957.5 381.6 L962.1 381.6 L962.1 388.9 L966.8 388.9 L966.8 411.9 L971.5 411.9 L971.5 415.7 L976.1 415.7 L976.1 404.0 L980.8 404.0 L980.8 408.1 L985.5 408.1 L985.5 408.1 L990.1 408.1 L990.1 417.5 L994.8 417.5 L994.8 412.8 L999.5 412.8 L999.5 412.8 L1004.1 412.8 L1004.1 415.2 L1008.2 415.2" stroke="#7030A0" stroke-width="2.8" fill="none" stroke-linejoin="round" stroke-linecap="round"/>
<path d="M89.3 492.6H112.5" stroke="#002060" stroke-width="2.8" stroke-linecap="round" fill="none"/>
<text transform="matrix(1.015,0,0,1.08,114.90,497.8)" font-size="15.5">High P/B  Ratio</text>
<path d="M250.3 492.6H273.5" stroke="#00B0F0" stroke-width="2.8" stroke-linecap="round" fill="none"/>
<text transform="matrix(1.015,0,0,1.08,276.00,497.8)" font-size="15.5">High P/E Ratio</text>
<path d="M407.0 492.6H430.4" stroke="#00B050" stroke-width="2.8" stroke-linecap="round" fill="none"/>
<text transform="matrix(1.015,0,0,1.08,432.50,497.8)" font-size="15.5">High Sales Growth</text>
<path d="M591.3 492.6H614.5" stroke="#FFC000" stroke-width="2.8" stroke-linecap="round" fill="none"/>
<text transform="matrix(1.015,0,0,1.08,617.30,497.8)" font-size="15.5">High Earnings Growth</text>
<path d="M798.3 492.6H821.4" stroke="#7030A0" stroke-width="2.8" stroke-linecap="round" fill="none"/>
<text transform="matrix(1.015,0,0,1.08,824.30,497.8)" font-size="15.5">High Momentum</text>
</svg></div></body></html>
